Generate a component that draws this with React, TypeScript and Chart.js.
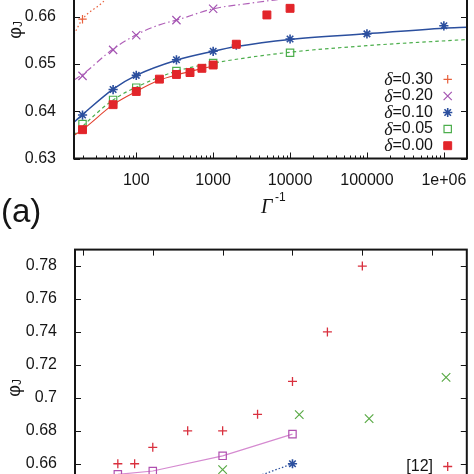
import React, { useEffect, useRef } from 'react';
import { Chart, registerables } from 'chart.js';
import { drawPoint } from 'chart.js/helpers';

Chart.register(...registerables);

const SANS = '"Liberation Sans", Arial, Helvetica, sans-serif';
const SERIF = '"Liberation Serif", "Times New Roman", serif';
const INK = '#151515';

// ---------- panel (a): jamming density φJ against inverse shear rate Γ⁻¹ ----------
const xRangeA = [15.5, 2e6];
const yRangeA = [0.63, 0.67];
const xTicksA = [100, 1000, 10000, 100000, 1000000];
const xTickLabelsA = ['100', '1000', '10000', '100000', '1e+06'];
const yTicksA = [0.63, 0.64, 0.65, 0.66, 0.67];
const yTickLabelsA = ['0.63', '0.64', '0.65', '0.66', '0.67'];
const deltaLabels = ['=0.30', '=0.20', '=0.10', '=0.05', '=0.00'];

// measured φJ for each polydispersity δ
const gammaInvD030 = [20];
const phiD030 = [0.6595];
const gammaInvD020 = [20, 50, 100, 333, 1000];
const phiD020 = [0.6475, 0.653, 0.6561, 0.6593, 0.6617];
const gammaInvD010 = [20, 50, 100, 333, 1000, 2000, 10000, 100000, 1000000];
const phiD010 = [0.6392, 0.6446, 0.6476, 0.6509, 0.6527, 0.654, 0.6553, 0.6564, 0.6581];
const gammaInvD005 = [20, 50, 100, 333, 1000, 10000];
const phiD005 = [0.6373, 0.6424, 0.645, 0.6485, 0.6502, 0.6524];
const gammaInvD000 = [20, 50, 100, 200, 333, 500, 714, 1000, 2000, 5000, 10000];
const phiD000 = [0.6361, 0.6414, 0.6442, 0.6468, 0.6478, 0.6482, 0.6491, 0.6498, 0.6542, 0.6604, 0.6618];

// fitted curves through each δ series
const fitXD030 = [15.5, 20, 35, 60];
const fitYD030 = [0.6563, 0.6595, 0.6628, 0.6665];
const fitXD020 = [15.5, 20, 50, 100, 200, 350, 1000, 2800, 10000];
const fitYD020 = [0.6466, 0.6478, 0.6532, 0.6562, 0.6583, 0.6594, 0.6617, 0.6628, 0.664];
const fitXD010 = [15.5, 20, 50, 100, 333, 1000, 2000, 10000, 100000, 1000000, 2000000];
const fitYD010 = [0.6377, 0.6393, 0.6447, 0.6476, 0.6508, 0.6527, 0.6537, 0.6552, 0.6564, 0.6576, 0.6578];
const fitXD005 = [15.5, 20, 50, 100, 333, 1000, 10000, 100000, 2000000];
const fitYD005 = [0.6349, 0.6368, 0.6424, 0.6451, 0.6485, 0.6502, 0.6525, 0.6539, 0.6552];
const fitXD000 = [15.5, 20, 50, 100, 200, 333, 1000];
const fitYD000 = [0.6349, 0.6361, 0.6414, 0.6442, 0.6466, 0.6477, 0.6496];

// ---------- panel (b) ----------
const xRangeB = [7.7, 3.13e6];
const yRangeB = [0.64, 0.79];
const xTicksB = [10, 100, 1000, 10000, 100000, 1000000];
const xTickLabelsB = ['10', '100', '1000', '10000', '100000', '1e+06'];
const yTicksB = [0.64, 0.66, 0.68, 0.7, 0.72, 0.74, 0.76, 0.78];
const yTickLabelsB = ['0.64', '0.66', '0.68', '0.7', '0.72', '0.74', '0.76', '0.78'];

const xRef12 = [31.6, 55, 100, 316, 1000, 3162, 10000, 31623, 100000];
const phiRef12 = [0.66, 0.66, 0.67, 0.68, 0.68, 0.69, 0.71, 0.74, 0.78];
const xGreenB = [1000, 12500, 125000, 1580000];
const phiGreenB = [0.6564, 0.6898, 0.6874, 0.7124];
const xPurpleB = [31.6, 100, 1000, 10000];
const phiPurpleB = [0.6536, 0.6556, 0.6648, 0.678];
const xBlueB = [1000, 10000];
const phiBlueB = [0.6447, 0.66];

type Pt = { x: number; y: number };
const zip = (xs: number[], ys: number[]): Pt[] => xs.map((x, i) => ({ x, y: ys[i] }));

type Mark = { pointStyle: string; radius: number; borderColor: string; backgroundColor: string; borderWidth: number };

const markD030: Mark = { pointStyle: 'cross', radius: 4.2, borderColor: '#e8603c', backgroundColor: 'rgba(0,0,0,0)', borderWidth: 1.2 };
const markD020: Mark = { pointStyle: 'crossRot', radius: 5.8, borderColor: '#a454b2', backgroundColor: 'rgba(0,0,0,0)', borderWidth: 1.2 };
const markD010: Mark = { pointStyle: 'star', radius: 4.6, borderColor: '#2b4f9e', backgroundColor: 'rgba(0,0,0,0)', borderWidth: 1.6 };
const markD005: Mark = { pointStyle: 'rect', radius: 5.2, borderColor: '#4cae4c', backgroundColor: 'rgba(255,255,255,0)', borderWidth: 1.2 };
const markD000: Mark = { pointStyle: 'rect', radius: 5.6, borderColor: '#e2252a', backgroundColor: '#e2252a', borderWidth: 1 };
const legendMarksA = [markD030, markD020, markD010, markD005, markD000];

const markRef12: Mark = { pointStyle: 'cross', radius: 4.5, borderColor: '#d9303e', backgroundColor: 'rgba(0,0,0,0)', borderWidth: 1.3 };
const markGreenB: Mark = { pointStyle: 'crossRot', radius: 6, borderColor: '#5aaa46', backgroundColor: 'rgba(0,0,0,0)', borderWidth: 1.2 };
const markPurpleB: Mark = { pointStyle: 'rect', radius: 5.2, borderColor: '#b050b0', backgroundColor: 'rgba(255,255,255,0)', borderWidth: 1.2 };
const markBlueB: Mark = { pointStyle: 'star', radius: 4.6, borderColor: '#2b4f9e', backgroundColor: 'rgba(0,0,0,0)', borderWidth: 1.6 };

const points = (xs: number[], ys: number[], m: Mark, extra: any = {}) => ({
  data: zip(xs, ys),
  showLine: false,
  pointStyle: m.pointStyle,
  pointRadius: m.radius,
  pointHoverRadius: m.radius,
  pointBorderColor: m.borderColor,
  pointBackgroundColor: m.backgroundColor,
  pointBorderWidth: m.borderWidth,
  borderColor: m.borderColor,
  backgroundColor: m.backgroundColor,
  ...extra,
});

const curve = (xs: number[], ys: number[], color: string, dash: number[], width: number) => ({
  data: zip(xs, ys),
  showLine: true,
  pointRadius: 0,
  pointHoverRadius: 0,
  pointHitRadius: 0,
  borderColor: color,
  borderWidth: width,
  borderDash: dash,
  cubicInterpolationMode: 'monotone',
  fill: false,
});

const minorLogTicks = (lo: number, hi: number) => {
  const out: number[] = [];
  for (let d = 1; d <= hi; d *= 10) {
    for (let m = 2; m <= 9; m++) {
      const v = d * m;
      if (v > lo && v < hi) out.push(v);
    }
  }
  return out;
};

// gnuplot-style frame with inward ticks on all four sides
const frameTicks = {
  id: 'frameTicks',
  afterDatasetsDraw(chart: any, _args: any, opts: any) {
    const { ctx, chartArea: a } = chart;
    const xs = chart.scales.x;
    const ys = chart.scales.y;
    ctx.save();
    ctx.strokeStyle = INK;
    ctx.lineWidth = 1;
    ctx.beginPath();
    const vTick = (v: number, len: number) => {
      const p = Math.round(xs.getPixelForValue(v)) + 0.5;
      if (p < a.left || p > a.right) return;
      ctx.moveTo(p, a.bottom);
      ctx.lineTo(p, a.bottom - len);
      ctx.moveTo(p, a.top);
      ctx.lineTo(p, a.top + len);
    };
    const hTick = (v: number, len: number) => {
      const p = Math.round(ys.getPixelForValue(v)) + 0.5;
      if (p < a.top - 1 || p > a.bottom + 1) return;
      ctx.moveTo(a.left, p);
      ctx.lineTo(a.left + len, p);
      ctx.moveTo(a.right, p);
      ctx.lineTo(a.right - len, p);
    };
    opts.xMajor.forEach((v: number) => vTick(v, opts.majorLen));
    opts.xMinor.forEach((v: number) => vTick(v, opts.minorLen));
    opts.yMajor.forEach((v: number) => hTick(v, opts.majorLen));
    ctx.stroke();
    ctx.lineWidth = 2;
    ctx.strokeRect(a.left, a.top, a.right - a.left, a.bottom - a.top);
    ctx.restore();
  },
};

function drawPhiJ(ctx: CanvasRenderingContext2D, cx: number, cy: number) {
  ctx.save();
  ctx.translate(cx, cy);
  ctx.rotate(-Math.PI / 2);
  ctx.fillStyle = INK;
  ctx.textBaseline = 'alphabetic';
  ctx.font = `18px ${SANS}`;
  ctx.textAlign = 'right';
  ctx.fillText('φ', 1, 6);
  ctx.font = `12px ${SANS}`;
  ctx.textAlign = 'left';
  ctx.fillText('J', 1, 7);
  ctx.restore();
}

function drawLegendRow(ctx: CanvasRenderingContext2D, prefix: string, label: string, textRight: number, markX: number, y: number, m: Mark) {
  ctx.fillStyle = INK;
  ctx.textBaseline = 'middle';
  ctx.textAlign = 'right';
  ctx.font = `16px ${SANS}`;
  ctx.fillText(label, textRight, y);
  if (prefix) {
    const w = ctx.measureText(label).width;
    ctx.font = `italic 18px ${SERIF}`;
    ctx.fillText(prefix, textRight - w, y + 1);
  }
  ctx.strokeStyle = m.borderColor;
  ctx.fillStyle = m.backgroundColor;
  ctx.lineWidth = m.borderWidth;
  drawPoint(ctx, { pointStyle: m.pointStyle, radius: m.radius, rotation: 0, borderWidth: m.borderWidth } as any, markX, y);
}

const TOP_A = -50; // canvas offset of panel (a) on the page
const TOP_B = 230; // canvas offset of panel (b)

const overlayA = {
  id: 'overlayA',
  afterDraw(chart: any) {
    const ctx: CanvasRenderingContext2D = chart.ctx;
    ctx.save();
    drawPhiJ(ctx, 15, 28 - TOP_A);
    // axis title Γ⁻¹
    ctx.fillStyle = INK;
    ctx.textAlign = 'left';
    ctx.textBaseline = 'alphabetic';
    ctx.font = `italic 20px ${SERIF}`;
    ctx.fillText('Γ', 261, 213 - TOP_A);
    ctx.font = `12px ${SANS}`;
    ctx.fillText('-1', 275, 201 - TOP_A);
    // panel tag
    ctx.font = `33px ${SANS}`;
    ctx.textBaseline = 'middle';
    ctx.fillText('(a)', 1, 213 - TOP_A);
    // legend
    const rowY = [79.3, 96, 112.5, 129, 145.7];
    deltaLabels.forEach((lab, i) => drawLegendRow(ctx, 'δ', lab, 433, 447.7, rowY[i] - TOP_A, legendMarksA[i]));
    ctx.restore();
  },
};

const overlayB = {
  id: 'overlayB',
  afterDraw(chart: any) {
    const ctx: CanvasRenderingContext2D = chart.ctx;
    ctx.save();
    drawPhiJ(ctx, 13.5, 386 - TOP_B);
    drawLegendRow(ctx, '', '[12]', 433, 447.7, 466.5 - TOP_B, markRef12);
    ctx.restore();
  },
};

const tickFont = { family: SANS, size: 16 };

function axes(xRange: number[], yRange: number[], xT: number[], xL: string[], yT: number[], yL: string[], yW: number, xH: number) {
  return {
    x: {
      type: 'logarithmic',
      min: xRange[0],
      max: xRange[1],
      grid: { display: false },
      border: { display: false },
      afterBuildTicks: (s: any) => { s.ticks = xT.map((v) => ({ value: v })); },
      afterFit: (s: any) => { s.height = xH; },
      ticks: { autoSkip: false, maxRotation: 0, padding: 4, color: INK, font: tickFont, callback: (_v: any, i: number) => xL[i] },
    },
    y: {
      type: 'linear',
      min: yRange[0],
      max: yRange[1],
      grid: { display: false },
      border: { display: false },
      afterBuildTicks: (s: any) => { s.ticks = yT.map((v) => ({ value: v })); },
      afterFit: (s: any) => { s.width = yW; },
      ticks: { padding: 10, color: INK, font: tickFont, callback: (_v: any, i: number) => yL[i] },
    },
  };
}

function PanelA() {
  const ref = useRef<HTMLCanvasElement>(null);
  useEffect(() => {
    const chart = new Chart(ref.current!, {
      type: 'scatter',
      data: {
        datasets: [
          points(gammaInvD000, phiD000, markD000),
          points(gammaInvD005, phiD005, markD005),
          points(gammaInvD010, phiD010, markD010),
          points(gammaInvD020, phiD020, markD020),
          points(gammaInvD030, phiD030, markD030),
          curve(fitXD000, fitYD000, '#e2402e', [], 1.1),
          curve(fitXD005, fitYD005, '#4cae4c', [3.5, 3], 1.2),
          curve(fitXD010, fitYD010, '#2b4f9e', [], 1.5),
          curve(fitXD020, fitYD020, '#b060b8', [7, 3, 1.5, 3], 1.2),
          curve(fitXD030, fitYD030, '#e8603c', [1.5, 2.5], 1.2),
        ] as any,
      },
      options: {
        responsive: false,
        animation: false,
        devicePixelRatio: 1,
        layout: { padding: { top: 15.2, right: 3, left: 0, bottom: 0 } },
        scales: axes(xRangeA, yRangeA, xTicksA, xTickLabelsA, yTicksA, yTickLabelsA, 74, 71.5) as any,
        plugins: {
          legend: { display: false },
          tooltip: { enabled: false },
          frameTicks: { xMajor: xTicksA, xMinor: minorLogTicks(xRangeA[0], xRangeA[1]), yMajor: yTicksA, majorLen: 6, minorLen: 3 },
        } as any,
      },
      plugins: [frameTicks, overlayA],
    });
    return () => chart.destroy();
  }, []);
  return <canvas ref={ref} width={474} height={280} style={{ position: 'absolute', left: 0, top: TOP_A, width: 474, height: 280 }} />;
}

function PanelB() {
  const ref = useRef<HTMLCanvasElement>(null);
  useEffect(() => {
    const chart = new Chart(ref.current!, {
      type: 'scatter',
      data: {
        datasets: [
          points(xRef12, phiRef12, markRef12),
          points(xGreenB, phiGreenB, markGreenB),
          points(xPurpleB, phiPurpleB, markPurpleB, { showLine: true, borderColor: '#d58ad0', borderWidth: 1.2 }),
          points(xBlueB, phiBlueB, markBlueB, { showLine: true, borderColor: '#2b4f9e', borderWidth: 1.3, borderDash: [1.5, 2] }),
        ] as any,
      },
      options: {
        responsive: false,
        animation: false,
        devicePixelRatio: 1,
        layout: { padding: { top: 16.6, right: 3, left: 0, bottom: 0 } },
        scales: axes(xRangeB, yRangeB, xTicksB, xTickLabelsB, yTicksB, yTickLabelsB, 75, 33.3) as any,
        plugins: {
          legend: { display: false },
          tooltip: { enabled: false },
          frameTicks: { xMajor: xTicksB, xMinor: [], yMajor: yTicksB, majorLen: 6, minorLen: 3 },
        } as any,
      },
      plugins: [frameTicks, overlayB],
    });
    return () => chart.destroy();
  }, []);
  return <canvas ref={ref} width={474} height={300} style={{ position: 'absolute', left: 0, top: TOP_B, width: 474, height: 300 }} />;
}

export default function App() {
  return (
    <div style={{ position: 'fixed', left: 0, top: 0, width: 474, height: 474, overflow: 'hidden', background: '#fff' }}>
      <PanelA />
      <PanelB />
    </div>
  );
}
